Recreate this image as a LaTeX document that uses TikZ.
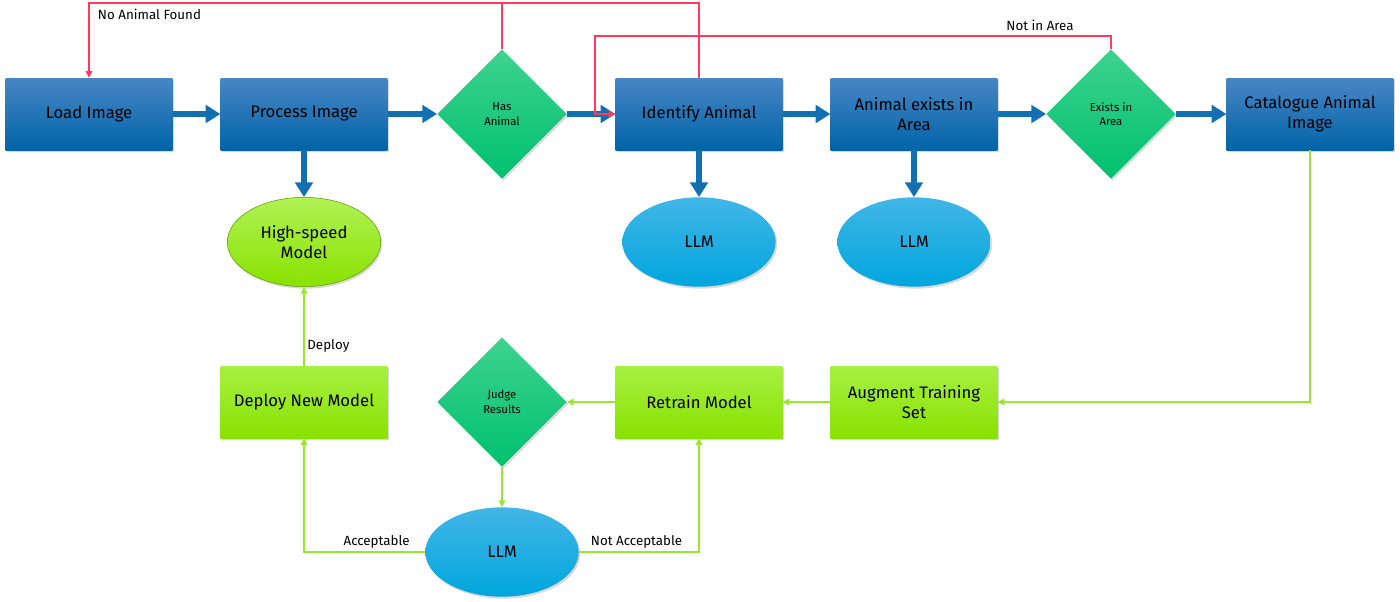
\documentclass[tikz,border=0pt]{standalone}
\usepackage{fontspec}
\setmainfont{Fira Sans}
\usetikzlibrary{shapes.geometric,arrows.meta,shadows,positioning}

\definecolor{bluetop}{RGB}{72,134,196}
\definecolor{bluebot}{RGB}{0,100,168}
\definecolor{flowblue}{RGB}{18,112,178}
\definecolor{greentop}{RGB}{62,210,142}
\definecolor{greenbot}{RGB}{0,192,112}
\definecolor{limetop}{RGB}{168,240,66}
\definecolor{limebot}{RGB}{136,226,0}
\definecolor{cyantop}{RGB}{66,182,230}
\definecolor{cyanbot}{RGB}{0,166,222}
\definecolor{alertred}{RGB}{255,58,92}
\definecolor{limeline}{RGB}{152,232,48}

\tikzset{
	shade/.style={drop shadow={shadow xshift=1.2pt,shadow yshift=-1.5pt,opacity=.3}},
	bluebox/.style={rectangle,shade,top color=bluetop,bottom color=bluebot,minimum width=125pt,minimum height=54pt,align=center,font=\fontsize{12.5}{15}\selectfont},
	limebox/.style={bluebox,top color=limetop,bottom color=limebot},
	decision/.style={diamond,shade,top color=greentop,bottom color=greenbot,minimum width=97pt,minimum height=97pt,inner sep=0pt,align=center,font=\fontsize{8.5}{11}\selectfont},
	llm/.style={ellipse,shade,top color=cyantop,bottom color=cyanbot,minimum width=115pt,minimum height=67pt,align=center,font=\fontsize{12.5}{15}\selectfont},
	fastmodel/.style={llm,top color=limetop!90!white,bottom color=limebot,draw=limebot!70!black,line width=.4pt},
	flow/.style={draw=flowblue,line width=3.8pt,-{Triangle[width=13pt,length=11pt]}},
	alert/.style={draw=alertred,line width=1.1pt},
	train/.style={draw=limeline,line width=1.1pt,-{Triangle[width=5pt,length=5pt]}},
	lbl/.style={font=\fontsize{10}{12}\selectfont,inner sep=2pt}
}

\begin{document}
\begin{tikzpicture}[x=0.75pt,y=-0.75pt]
	\def\ytop{114}	%row of the detection boxes
	\def\ymid{242}	%row of the models
	\def\ybot{402}	%row of the training loop
	\useasboundingbox (0,0) rectangle (1400,601);

	%detection row
	\node[bluebox] (load) at (89,\ytop) {Load Image};
	\node[bluebox] (process) at (304,\ytop) {Process Image};
	\node[decision] (has) at (502,\ytop) {Has\\Animal};
	\node[bluebox] (identify) at (699,\ytop) {Identify Animal};
	\node[bluebox] (exists) at (914,\ytop) {Animal exists in\\Area};
	\node[decision] (inarea) at (1111,\ytop) {Exists in\\Area};
	\node[bluebox] (catalogue) at (1310,\ytop) {Catalogue Animal\\Image};

	%models
	\node[fastmodel] (fast) at (304,\ymid) {High-speed\\Model};
	\node[llm] (llmA) at (699,\ymid) {LLM};
	\node[llm] (llmB) at (914,\ymid) {LLM};

	%training loop
	\node[limebox] (deploy) at (304,\ybot) {Deploy New Model};
	\node[decision] (judge) at (502,\ybot) {Judge\\Results};
	\node[limebox] (retrain) at (699,\ybot) {Retrain Model};
	\node[limebox] (augment) at (914,\ybot) {Augment Training\\Set};
	\node[llm] (llmC) at (502,552) {LLM};

	\foreach \a/\b in {load/process,process/has,has/identify,identify/exists,exists/inarea,inarea/catalogue,process/fast,identify/llmA,exists/llmB}
		\draw[flow] (\a) -- (\b);

	%red loops back
	\coordinate (rtop) at (0,3);
	\coordinate (rmid) at (595,36);
	\draw[alert,-{Triangle[width=5pt,length=5pt]}] (has.north) -- (has.north |- rtop) -| (load.north);
	\draw[alert] (identify.north) |- (has.north |- rtop);
	\draw[alert,-{Triangle[width=5pt,length=5pt]}] (inarea.north) |- (rmid) |- (identify.west);
	\node[lbl,anchor=west] (nofound) at (95,14) {No Animal Found};
	\node[lbl] (notarea) at (1040,25) {Not in Area};

	%green training path
	\draw[train] (catalogue.south) |- (augment.east);
	\draw[train] (augment) -- (retrain);
	\draw[train] (retrain) -- (judge);
	\draw[train] (judge) -- (llmC);
	\draw[train] (llmC.west) -| (deploy.south) node[lbl,pos=.2,above] {Acceptable};
	\draw[train] (llmC.east) -| (retrain.south) node[lbl,pos=.24,above] {Not Acceptable};
	\draw[train] (deploy) -- (fast) node[lbl,pos=.25,right] {Deploy};
\end{tikzpicture}
\end{document}
